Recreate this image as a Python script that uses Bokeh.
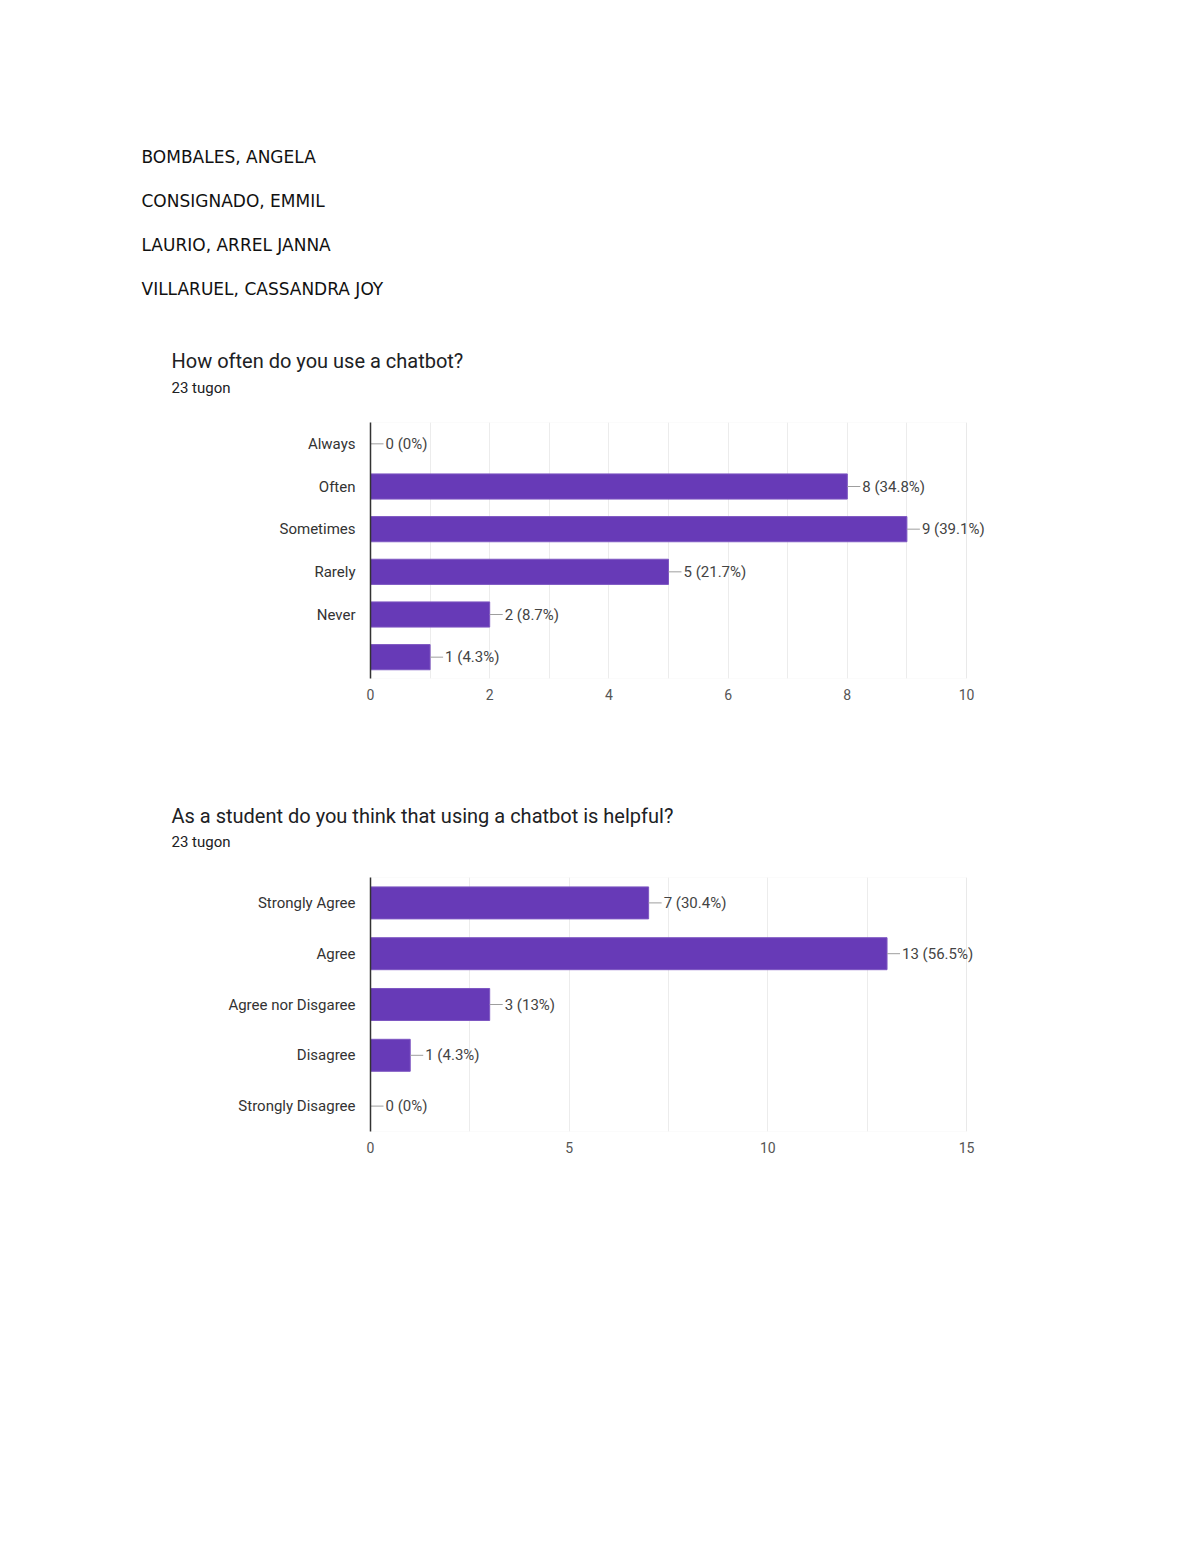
from bokeh.plotting import figure
from bokeh.layouts import column
from bokeh.models import (Range1d, FactorRange, FixedTicker, ColumnDataSource, LabelSet,
                          BoxAnnotation)
from bokeh.core.properties import value
from bokeh.embed import file_html
from bokeh.resources import INLINE

# ---------------- data ----------------
names = ["BOMBALES, ANGELA", "CONSIGNADO, EMMIL", "LAURIO, ARREL JANNA", "VILLARUEL, CASSANDRA JOY"]

q1_title = "How often do you use a chatbot?"
q1_sub = "23 tugon"
q1_cats = ["Always", "Often", "Sometimes", "Rarely", "Never", " "]
q1_counts = [0, 8, 9, 5, 2, 1]
q1_pcts = ["0%", "34.8%", "39.1%", "21.7%", "8.7%", "4.3%"]
q1_axis_ticks = [0, 2, 4, 6, 8, 10]
q1_grid_ticks = [0, 1, 2, 3, 4, 5, 6, 7, 8, 9, 10]

q2_title = "As a student do you think that using a chatbot is helpful?"
q2_sub = "23 tugon"
q2_cats = ["Strongly Agree", "Agree", "Agree nor Disgaree", "Disagree", "Strongly Disagree"]
q2_counts = [7, 13, 3, 1, 0]
q2_pcts = ["30.4%", "56.5%", "13%", "4.3%", "0%"]
q2_axis_ticks = [0, 5, 10, 15]
q2_grid_ticks = [0, 2.5, 5, 7.5, 10, 12.5, 15]

BAR = "#673ab7"
PAGE_W = 1200
LEFT = 370          # frame left edge (px)
AXIS_W = 596        # width of the drawn chart area (px)
RIGHT = 60          # frame extends to the right so value labels are not clipped
FRAME_W = PAGE_W - LEFT - RIGHT


def text_fig(h, items):
    """items: (x, y, text, font, size, color) in page pixels of this strip."""
    f = figure(width=PAGE_W, height=h, x_range=Range1d(0, PAGE_W),
               y_range=Range1d(h, 0), output_backend="svg", toolbar_location=None,
               min_border=0, x_axis_location=None, y_axis_location=None,
               frame_align=False)
    f.grid.visible = False
    f.outline_line_color = None
    for x, y, t, font, size, color in items:
        f.text(x=[x], y=[y], text=[t], text_font=value(font), text_font_size=size,
               text_color=color, text_baseline="middle")
    return f


def chart(cats, counts, pcts, xmax, axis_ticks, grid_ticks, top, frame_h, bottom, bar_h):
    src = ColumnDataSource(dict(c=cats, v=counts,
                                lab=[f"{v} ({p})" for v, p in zip(counts, pcts)]))
    p = figure(width=PAGE_W, height=top + frame_h + bottom,
               y_range=FactorRange(factors=cats[::-1]),
               x_range=Range1d(0, xmax * FRAME_W / AXIS_W),
               output_backend="svg", toolbar_location=None,
               min_border_left=LEFT, min_border_right=RIGHT,
               min_border_top=top, min_border_bottom=bottom)
    p.add_layout(BoxAnnotation(left=0, right=xmax, fill_alpha=0,
                               line_color="#e0e0e0", line_width=1, level="underlay"))
    p.hbar(y="c", left=0, right="v", height=bar_h, source=src,
           fill_color=BAR, line_color="#7e57c2", line_width=1)
    p.ray(x="v", y="c", length=13, length_units="screen", angle=0,
          line_color="#9e9e9e", line_width=1, source=src)
    p.add_layout(LabelSet(x="v", y="c", text="lab", x_offset=15, source=src,
                          text_baseline="middle", text_font=value("Roboto"),
                          text_font_size=value("15px"), text_color="#444444"))
    p.ygrid.visible = False
    p.xgrid.ticker = FixedTicker(ticks=grid_ticks)
    p.xgrid.grid_line_color = "#ececec"
    p.outline_line_color = None
    p.xaxis.ticker = FixedTicker(ticks=axis_ticks)
    p.xaxis.axis_line_color = None
    p.xaxis.major_tick_line_color = None
    p.xaxis.minor_tick_line_color = None
    p.xaxis.major_label_standoff = 4
    p.xaxis.major_label_text_font = "Roboto"
    p.xaxis.major_label_text_font_size = "14px"
    p.xaxis.major_label_text_color = "#555555"
    p.yaxis.axis_line_color = "#333333"
    p.yaxis.axis_line_width = 1.5
    p.yaxis.major_tick_line_color = None
    p.yaxis.minor_tick_line_color = None
    p.yaxis.major_label_standoff = 9
    p.yaxis.major_label_text_font = "Roboto"
    p.yaxis.major_label_text_font_size = "15px"
    p.yaxis.major_label_text_color = "#333333"
    return p


# header: names + first question title (page y 0..412)
name_items = [(141, y, n, "DejaVu Sans", "17px", "#111111")
              for n, y in zip(names, [156, 200, 244, 288])]
f0 = text_fig(412, name_items + [
    (171, 360, q1_title, "Roboto", "20px", "#202124"),
    (171, 387, q1_sub, "Roboto", "15px", "#202124"),
])

f1 = chart(q1_cats, q1_counts, q1_pcts, 10, q1_axis_ticks, q1_grid_ticks, 10, 256, 92, 0.59)

f2 = text_fig(100, [
    (171, 45, q2_title, "Roboto", "20px", "#202124"),
    (171, 71, q2_sub, "Roboto", "15px", "#202124"),
])

f3 = chart(q2_cats, q2_counts, q2_pcts, 15, q2_axis_ticks, q2_grid_ticks, 7, 254, 300, 0.63)

layout = column(f0, f1, f2, f3, spacing=0)
open("out.html", "w").write(file_html(layout, INLINE))
